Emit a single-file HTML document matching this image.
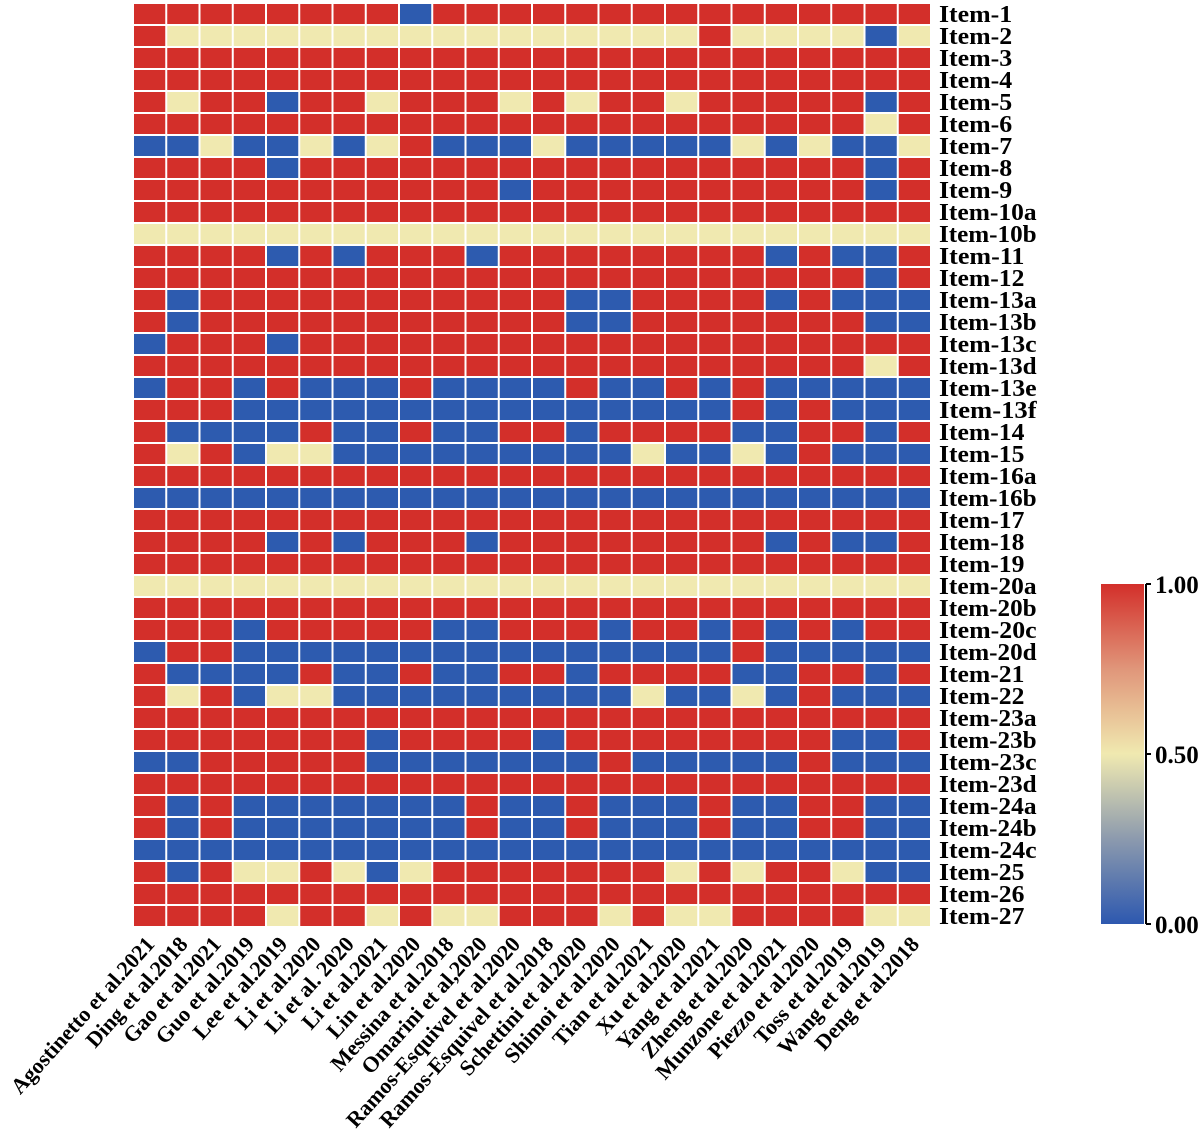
<!DOCTYPE html>
<html>
<head>
<meta charset="utf-8">
<style>
  html,body{margin:0;padding:0;background:#fff;}
  svg{display:block;}
  text{font-family:"Liberation Serif",serif;font-weight:bold;fill:#000;}
</style>
</head>
<body>
<svg id="chart" width="1200" height="1141" xmlns="http://www.w3.org/2000/svg">
  <defs>
    <linearGradient id="cbgrad" x1="0" y1="1" x2="0" y2="0">
      <stop offset="0" stop-color="#2D58AF"/>
      <stop offset="0.25" stop-color="#8C9AAE"/>
      <stop offset="0.5" stop-color="#F0E9B0"/>
      <stop offset="0.75" stop-color="#E0967A"/>
      <stop offset="1" stop-color="#D32F2A"/>
    </linearGradient>
  </defs>
  <g id="cells"></g>
  <g id="rowlabels"></g>
  <g id="collabels"></g>
  <g id="colorbar">
    <rect x="1101" y="584" width="43" height="340" fill="url(#cbgrad)"/>
    <line x1="1146" y1="584" x2="1146" y2="924" stroke="#000" stroke-width="2"/>
  </g>
</svg>
<script>
const studies = ["Agostinetto et al.2021","Ding et al.2018","Gao et al.2021","Guo et al.2019","Lee et al.2019","Li et al.2020","Li et al. 2020","Li et al.2021","Lin et al.2020","Messina et al.2018","Omarini et al,2020","Ramos-Esquivel et al.2020","Ramos-Esquivel et al.2018","Schettini et al.2020","Shimoi et al.2020","Tian et al.2021","Xu et al.2020","Yang et al.2021","Zheng et al.2020","Munzone et al.2021","Piezzo et al.2020","Toss et al.2019","Wang et al.2019","Deng et al.2018"];
const items = ["Item-1","Item-2","Item-3","Item-4","Item-5","Item-6","Item-7","Item-8","Item-9","Item-10a","Item-10b","Item-11","Item-12","Item-13a","Item-13b","Item-13c","Item-13d","Item-13e","Item-13f","Item-14","Item-15","Item-16a","Item-16b","Item-17","Item-18","Item-19","Item-20a","Item-20b","Item-20c","Item-20d","Item-21","Item-22","Item-23a","Item-23b","Item-23c","Item-23d","Item-24a","Item-24b","Item-24c","Item-25","Item-26","Item-27"];
// R=1, Y=0.5, B=0
const rowCodes = [
"RRRRRRRRBRRRRRRRRRRRRRRR",
"RYYYYYYYYYYYYYYYYRYYYYBY",
"RRRRRRRRRRRRRRRRRRRRRRRR",
"RRRRRRRRRRRRRRRRRRRRRRRR",
"RYRRBRRYRRRYRYRRYRRRRRBR",
"RRRRRRRRRRRRRRRRRRRRRRYR",
"BBYBBYBYRBBBYBBBBBYBYBBY",
"RRRRBRRRRRRRRRRRRRRRRRBR",
"RRRRRRRRRRRBRRRRRRRRRRBR",
"RRRRRRRRRRRRRRRRRRRRRRRR",
"YYYYYYYYYYYYYYYYYYYYYYYY",
"RRRRBRBRRRBRRRRRRRRBRBBR",
"RRRRRRRRRRRRRRRRRRRRRRBR",
"RBRRRRRRRRRRRBBRRRRBRBBB",
"RBRRRRRRRRRRRBBRRRRRRRBB",
"BRRRBRRRRRRRRRRRRRRRRRRR",
"RRRRRRRRRRRRRRRRRRRRRRYR",
"BRRBRBBBRBBBBRBBRBRBBBBB",
"RRRBBBBBBBBBBBBBBBRBRBBB",
"RBBBBRBBRBBRRBRRRRBBRRBR",
"RYRBYYBBBBBBBBBYBBYBRBBB",
"RRRRRRRRRRRRRRRRRRRRRRRR",
"BBBBBBBBBBBBBBBBBBBBBBBB",
"RRRRRRRRRRRRRRRRRRRRRRRR",
"RRRRBRBRRRBRRRRRRRRBRBBR",
"RRRRRRRRRRRRRRRRRRRRRRRR",
"YYYYYYYYYYYYYYYYYYYYYYYY",
"RRRRRRRRRRRRRRRRRRRRRRRR",
"RRRBRRRRRBBRRRBRRBRBRBRR",
"BRRBBBBBBBBBBBBBBBRBBBBB",
"RBBBBRBBRBBRRBRRRRBBRRBR",
"RYRBYYBBBBBBBBBYBBYBRBBB",
"RRRRRRRRRRRRRRRRRRRRRRRR",
"RRRRRRRBRRRRBRRRRRRRRBBR",
"BBRRRRRBBBBBBBRBBBBBRBBB",
"RRRRRRRRRRRRRRRRRRRRRRRR",
"RBRBBBBBBBRBBRBBBRBBRRBB",
"RBRBBBBBBBRBBRBBBRBBRRBB",
"BBBBBBBBBBBBBBBBBBBBBBBB",
"RBRYYRYBYRRRRRRRYRYRRYBB",
"RRRRRRRRRRRRRRRRRRRRRRRR",
"RRRRYRRYRYYRRRYRYYRRRRYY"
];
const values = rowCodes.map(s => s.split("").map(c => c === "R" ? 1 : (c === "Y" ? 0.5 : 0)));
const cbTicks = [1.00, 0.50, 0.00];

const NS = "http://www.w3.org/2000/svg";
const gx0 = 133, gx1 = 931, gy0 = 3, gy1 = 927;
const cw = (gx1 - gx0) / studies.length;
const ch = (gy1 - gy0) / items.length;
function xPos(i){ return gx0 + i * cw; }
function yPos(j){ return gy0 + j * ch; }
function color(v){
  if (v >= 0.75) return "#D32F2A";
  if (v >= 0.25) return "#F0E9B0";
  return "#2D5BAF";
}
const cbY0 = 584, cbY1 = 924;
function cbScale(v){ return cbY1 - v * (cbY1 - cbY0); }

const cells = document.getElementById("cells");
values.forEach((row, j) => {
  row.forEach((v, i) => {
    const r = document.createElementNS(NS, "rect");
    r.setAttribute("x", xPos(i) + 1);
    r.setAttribute("y", yPos(j) + 1);
    r.setAttribute("width", cw - 2);
    r.setAttribute("height", ch - 2);
    r.setAttribute("fill", color(v));
    
    
    cells.appendChild(r);
  });
});

const rl = document.getElementById("rowlabels");
items.forEach((name, j) => {
  const t = document.createElementNS(NS, "text");
  t.setAttribute("x", gx1 + 8);
  t.setAttribute("y", yPos(j) + ch / 2 + 8);
  t.setAttribute("font-size", "24");
  t.setAttribute("textLength", name.length * 12.2);
  t.setAttribute("lengthAdjust", "spacingAndGlyphs");
  t.textContent = name;
  
  
  rl.appendChild(t);
});

const cl = document.getElementById("collabels");
studies.forEach((name, i) => {
  const cx = xPos(i) + cw / 2 + 6;
  const cy = gy1 + 18;
  const t = document.createElementNS(NS, "text");
  t.setAttribute("x", cx);
  t.setAttribute("y", cy);
  t.setAttribute("font-size", "22");
  t.setAttribute("text-anchor", "end");
  t.setAttribute("transform", "rotate(-48 " + cx + " " + cy + ")");
  t.textContent = name;
  
  
  cl.appendChild(t);
});

const cb = document.getElementById("colorbar");
cbTicks.forEach(v => {
  const y = cbScale(v);
  const l = document.createElementNS(NS, "line");
  l.setAttribute("x1", 1146); l.setAttribute("x2", 1151);
  l.setAttribute("y1", y); l.setAttribute("y2", y);
  l.setAttribute("stroke", "#000"); l.setAttribute("stroke-width", "2");
  
  
  cb.appendChild(l);
  const t = document.createElementNS(NS, "text");
  t.setAttribute("x", 1155);
  t.setAttribute("y", y + 9);
  t.setAttribute("font-size", "25");
  t.textContent = v.toFixed(2);
  
  
  cb.appendChild(t);
});
</script>
</body>
</html>
